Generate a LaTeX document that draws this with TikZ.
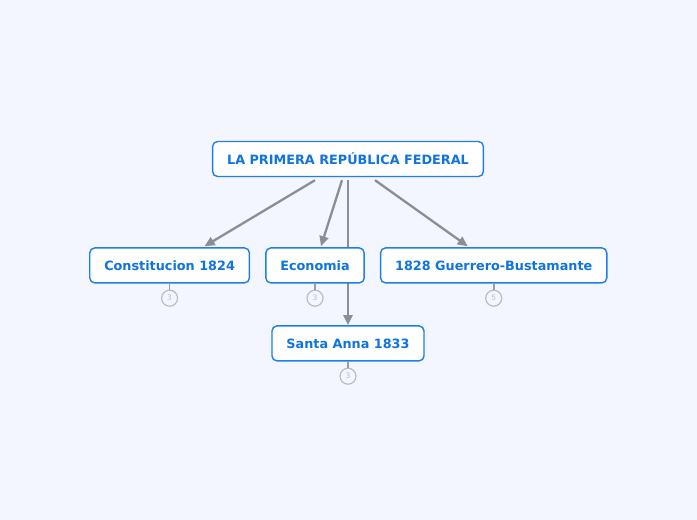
\documentclass[tikz,border=0pt]{standalone}
\usepackage{fontspec}
\setmainfont{DejaVu Sans}
\usetikzlibrary{arrows,arrows.meta,positioning,backgrounds}
\definecolor{bgcol}{HTML}{F3F6FE}
\definecolor{boxblue}{HTML}{1F7FE8}
\definecolor{txtblue}{HTML}{0F74DF}
\definecolor{linegray}{HTML}{8A8E97}
\definecolor{cntgray}{HTML}{B8BCC4}
\definecolor{stubgray}{HTML}{9A9EA6}

\begin{document}
\begin{tikzpicture}[x=1pt, y=-1pt,
    topic/.style={draw=boxblue, line width=1.4pt, fill=white, rounded corners=5pt,
        minimum height=35pt, inner xsep=14.5pt, text=txtblue,
        font=\bfseries\fontsize{12.8}{15}\selectfont},
    counter/.style={circle, draw=cntgray, line width=1.2pt, fill=bgcol, minimum size=16pt,
        inner sep=0pt, text=cntgray, font=\fontsize{7.5}{8}\selectfont},
    arrow/.style={draw=linegray, line width=2.3pt, -{Triangle[length=10pt,width=9pt]}},
    stub/.style={draw=stubgray, line width=1.8pt}]
            \useasboundingbox (0,0) rectangle (697,520);
            \node (root)  [topic] at (348,159) {LA PRIMERA REPÚBLICA FEDERAL};
            \node (econ)  [topic, below=70pt of root, xshift=-33pt] {Economia};
            \node (cons)  [topic, left=15pt of econ] {Constitucion 1824};
            \node (guer)  [topic, right=15pt of econ] {1828 Guerrero-Bustamante};
            \node (santa) [topic, below=148pt of root] {Santa Anna 1833};

            % the line to Santa Anna runs behind Economia
            \begin{scope}[on background layer]
            \fill[bgcol] (0,0) rectangle (697,520);
            \draw[arrow] ([yshift=-3pt]root.south) -- (santa.north);
            \end{scope}

            \draw[arrow] ([xshift=-33pt,yshift=-3pt]root.south) -- ([xshift=35pt,yshift=1pt]cons.north);
            \draw[arrow] ([xshift=-6pt,yshift=-3pt]root.south) -- ([xshift=6pt,yshift=1pt]econ.north);
            \draw[arrow] ([xshift=27pt,yshift=-3pt]root.south) -- ([xshift=-26pt,yshift=1pt]guer.north);

            \node (ncons)  [counter, below=6pt of cons]  {3};
            \node (necon)  [counter, below=6pt of econ]  {3};
            \node (nguer)  [counter, below=6pt of guer]  {5};
            \node (nsanta) [counter, below=6pt of santa] {3};
            \draw[stub] (cons.south) -- (ncons.north);
            \draw[stub] (econ.south) -- (necon.north);
            \draw[stub] (guer.south) -- (nguer.north);
            \draw[stub] (santa.south) -- (nsanta.north);
        \end{tikzpicture}
\end{document}
